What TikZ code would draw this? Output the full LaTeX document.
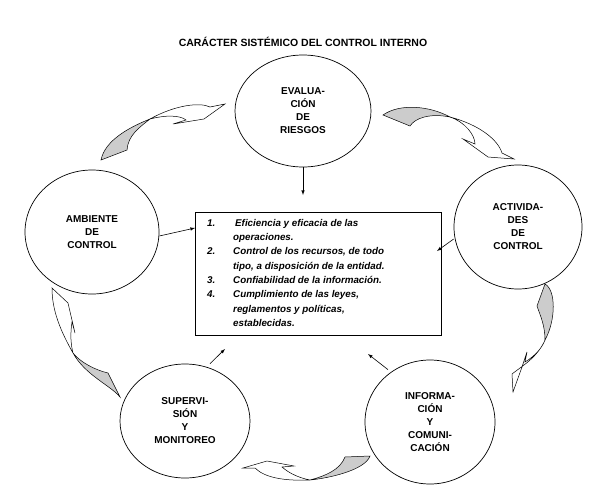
\documentclass[tikz,border=0pt]{standalone}
\usepackage{fontspec}
\setmainfont{Liberation Sans}
\usetikzlibrary{shapes.geometric}
\begin{document}
\begin{tikzpicture}[x=1pt,y=-1pt,
  comp/.style={draw,ellipse,line width=0.7pt,font=\bfseries\fontsize{10}{13}\selectfont,align=center,inner sep=0pt},
  arr/.style={-latex,line width=0.6pt},
  graypart/.style={draw,fill=gray!40,line width=0.5pt},
  whitepart/.style={draw,fill=white,line width=0.5pt}]
\useasboundingbox (0,0) rectangle (607,490);
\node[font=\bfseries\fontsize{10.5}{12}\selectfont] (title) at (303,42) {CARÁCTER SISTÉMICO DEL CONTROL INTERNO};
\node[comp,minimum width=136pt,minimum height=112pt] (ev) at (303,111) {EVALUA-\\CIÓN\\DE\\RIESGOS};
\node[comp,minimum width=134pt,minimum height=124pt] (am) at (92,232) {AMBIENTE\\DE\\CONTROL};
\node[comp,minimum width=128pt,minimum height=124pt] (ac) at (518,227) {ACTIVIDA-\\DES\\DE\\CONTROL};
\node[comp,minimum width=130pt,minimum height=124pt] (in) at (430,422) {INFORMA-\\CIÓN\\Y\\COMUNI-\\CACIÓN};
\node[comp,minimum width=130pt,minimum height=114pt] (su) at (185,421) {SUPERVI-\\SIÓN\\Y\\MONITOREO};
\node[draw,line width=0.7pt,minimum width=246pt,minimum height=123pt,anchor=north west,inner sep=0pt] (box) at (195,212) {};
\node[anchor=north west,inner sep=0pt,font=\bfseries\itshape\fontsize{9.8}{14.3}\selectfont] (txt) at (207,216) {%
\begin{tabular}{@{}p{26pt}@{}l@{}}
1. & \hspace{2pt}Eficiencia y eficacia de las\\
 & operaciones.\\
2. & Control de los recursos, de todo\\
 & tipo, a disposición de la entidad.\\
3. & Confiabilidad de la información.\\
4. & Cumplimiento de las leyes,\\
 & reglamentos y políticas,\\
 & establecidas.
\end{tabular}};
\coordinate (c1) at (303,195);
\coordinate (c2) at (195,228);
\coordinate (c3) at (437,251);
\coordinate (c4) at (225,349);
\coordinate (c5) at (368,354);
\draw[arr] (ev.south) -- (c1);
\draw[arr] (am.east) ++(0,4) -- (c2);
\draw[arr] (ac.west) ++(0,12) -- (c3);
\draw[arr] (su.north) ++(25,0) -- (c4);
\draw[arr] (in.north) ++(-42,10) -- (c5);
% top-left
\draw[graypart] (101,160) .. controls (105,140) and (130,127) .. (150,119) .. controls (140,127) and (128,135) .. (127,150) -- cycle;
\draw[whitepart] (150,119) .. controls (175,105) and (200,102) .. (210,107) -- (225,104) -- (204,119) -- (173,124) -- (186,120) .. controls (180,115) and (165,115) .. (150,119);
% top-right
\draw[graypart] (383,115) .. controls (400,103) and (430,106) .. (450,117) .. controls (430,113) and (415,118) .. (410,126) -- cycle;
\draw[whitepart] (450,117) .. controls (480,125) and (498,140) .. (502,153) -- (514,159) -- (488,157) -- (463,139) -- (475,144) .. controls (475,135) and (465,122) .. (450,117);
% right
\draw[graypart] (545,284) .. controls (556,290) and (556,320) .. (545,340) .. controls (545,325) and (540,315) .. (537,306) -- cycle;
\draw[whitepart] (545,340) .. controls (537,358) and (522,366) .. (512,374) -- (513,392) -- (522,367) -- (527,352) -- (525,362) .. controls (535,356) and (542,348) .. (545,340);
% bottom
\draw[graypart] (310,480) .. controls (330,478) and (365,470) .. (370,456) -- (345,457) .. controls (340,470) and (325,476) .. (310,480) -- cycle;
\draw[whitepart] (310,480) .. controls (285,481) and (265,478) .. (255,468) -- (243,468) -- (267,461) -- (294,466) -- (282,467) .. controls (290,474) and (300,478) .. (310,480);
% left
\draw[graypart] (73,353) .. controls (85,375) and (110,385) .. (120,397) -- (108,373) .. controls (95,370) and (80,362) .. (73,353) -- cycle;
\draw[whitepart] (73,353) .. controls (60,330) and (52,310) .. (52,288) -- (68,303) -- (75,333) -- (72,322) .. controls (70,335) and (71,345) .. (73,353);
\end{tikzpicture}
\end{document}
